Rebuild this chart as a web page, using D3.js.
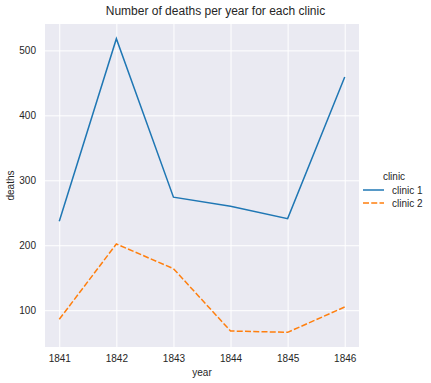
<!DOCTYPE html>
<html><head><meta charset="utf-8">
<script src="https://cdn.jsdelivr.net/npm/d3@7"></script>
<style>body{margin:0;background:#fff;} text{font-family:"Liberation Sans",Arial,sans-serif;fill:#262626;}</style>
</head><body>
<script>
const years = [1841, 1842, 1843, 1844, 1845, 1846];
const clinic1 = [237, 518, 274, 260, 241, 459];
const clinic2 = [86, 202, 164, 68, 66, 105];
const seriesNames = ["clinic 1", "clinic 2"];
const yTicks = [100, 200, 300, 400, 500];

const W = 431, H = 383;
const plot = {left: 45, right: 359, top: 24, bottom: 347};
const svg = d3.select("body").append("svg").attr("width", W).attr("height", H);

const x = d3.scaleLinear().domain([1840.75, 1846.25]).range([plot.left, plot.right]);
const allV = clinic1.concat(clinic2);
const mn = d3.min(allV), mx = d3.max(allV), pad = (mx - mn) * 0.05;
const y = d3.scaleLinear().domain([mn - pad, mx + pad]).range([plot.bottom, plot.top]);

svg.append("rect").attr("x", plot.left).attr("y", plot.top)
  .attr("width", plot.right - plot.left).attr("height", plot.bottom - plot.top).attr("fill", "#EAEAF2");

const xAxis = d3.axisBottom(x).tickValues(years).tickFormat(d3.format("d")).tickSize(-(plot.bottom - plot.top)).tickPadding(8);
const gx = svg.append("g").attr("transform", `translate(0,${plot.bottom})`).call(xAxis);
const yAxis = d3.axisLeft(y).tickValues(yTicks).tickSize(-(plot.right - plot.left)).tickPadding(9);
const gy = svg.append("g").attr("transform", `translate(${plot.left},0)`).call(yAxis);
[gx, gy].forEach(g => {
  g.select(".domain").remove();
  g.selectAll("line").attr("stroke", "#fff").attr("stroke-width", 1);
  g.selectAll("text").attr("font-size", 10).style("fill", "#262626");
});

const colors = ["#1f77b4", "#ff7f0e"];
const dashes = [null, "6,2.25"];
const data = [clinic1, clinic2];
const line = d3.line().x((d, i) => x(years[i])).y(d => y(d));
data.forEach((s, k) => {
  svg.append("path").datum(s).attr("d", line).attr("fill", "none")
    .attr("stroke", colors[k]).attr("stroke-width", 1.5)
    .attr("stroke-dasharray", dashes[k]);
});

svg.append("text").attr("x", 215.5).attr("y", 15).attr("text-anchor", "middle")
  .attr("font-size", 12).text("Number of deaths per year for each clinic");
svg.append("text").attr("x", (plot.left + plot.right) / 2).attr("y", 376).attr("text-anchor", "middle")
  .attr("font-size", 10).text("year");
svg.append("text").attr("transform", `translate(14,${(plot.top + plot.bottom) / 2}) rotate(-90)`)
  .attr("text-anchor", "middle").attr("font-size", 10).text("deaths");

const lg = svg.append("g");
lg.append("text").attr("x", 394).attr("y", 180).attr("text-anchor", "middle").attr("font-size", 10).text("clinic");
seriesNames.forEach((n, k) => {
  const yy = 190 + k * 13;
  lg.append("line").attr("x1", 363).attr("x2", 384).attr("y1", yy).attr("y2", yy)
    .attr("stroke", colors[k]).attr("stroke-width", 1.5).attr("stroke-dasharray", dashes[k]);
  lg.append("text").attr("x", 392).attr("y", yy + 3.5).attr("font-size", 10).text(n);
});
</script>
</body></html>
